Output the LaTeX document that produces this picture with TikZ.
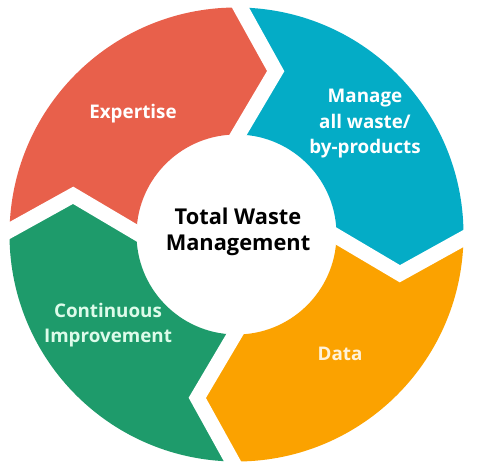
\documentclass[tikz,border=0pt]{standalone}
\usepackage{fontspec}
\setmainfont{Open Sans}
\usepackage{tikz}

\definecolor{expred}{HTML}{E8604B}
\definecolor{mantea}{HTML}{04ACC6}
\definecolor{datorg}{HTML}{FBA200}
\definecolor{congrn}{HTML}{1E9B6B}
\definecolor{conmint}{HTML}{DDFBEA}
\definecolor{datcrm}{HTML}{FFF2D9}

\begin{document}
\begin{tikzpicture}[x=1pt, y=1pt]
 \tikzstyle{sector}=[draw=none]
 \tikzstyle{gap}=[draw=white, line width=15pt, miter limit=20, line cap=rect]
 \tikzstyle{label}=[text=white, font=\bfseries\fontsize{18.8}{25.5}\selectfont, align=center]
 %
 \fill[white] (-236.5, -237.5) rectangle (240.5, 234.5);
 \useasboundingbox (-236.5, -237.5) rectangle (240.5, 234.5);
 %
 \fill[sector, expred] (179:227) arc[start angle=179, end angle=89, radius=227] -- (76.5:168) -- (89:100) arc[start angle=89, end angle=179, radius=100] -- (166.5:168) -- cycle;
 \fill[sector, mantea] (89:227) arc[start angle=89, end angle=-1, radius=227] -- (-13.5:168) -- (-1:100) arc[start angle=-1, end angle=89, radius=100] -- (76.5:168) -- cycle;
 \fill[sector, datorg] (-1:227) arc[start angle=-1, end angle=-91, radius=227] -- (-103.5:168) -- (-91:100) arc[start angle=-91, end angle=-1, radius=100] -- (-13.5:168) -- cycle;
 \fill[sector, congrn] (-91:227) arc[start angle=-91, end angle=-181, radius=227] -- (166.5:168) -- (179:100) arc[start angle=179, end angle=269, radius=100] -- (-103.5:168) -- cycle;
 %
 \draw[gap] (89:227) -- (76.5:168) -- (89:100);
 \draw[gap] (-1:227) -- (-13.5:168) -- (-1:100);
 \draw[gap] (-91:227) -- (-103.5:168) -- (-91:100);
 \draw[gap] (179:227) -- (166.5:168) -- (179:100);
 %
 \node[label] (exp) at (-103.5, 120.5) {Expertise};
 \node[label] (man) at (128.5, 110.5) {Manage\\all waste/\\by-products};
 \node[label, text=datcrm] (dat) at (103.5, -119.5) {Data};
 \node[label, text=conmint] (con) at (-128.5, -90.5) {Continuous\\Improvement};
 \node[label, text=black, font=\bfseries\fontsize{21.8}{26}\selectfont] (twm) at (1.5, 2.5) {Total Waste\\Management};
\end{tikzpicture}
\end{document}
